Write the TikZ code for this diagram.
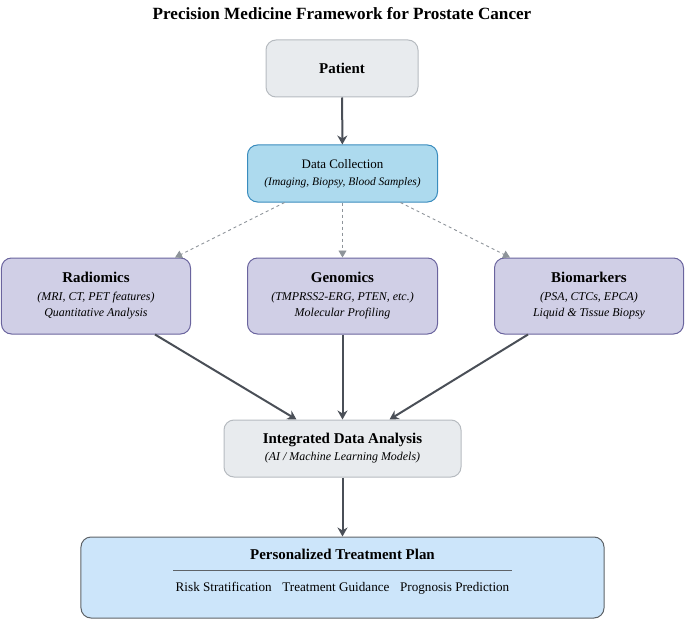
\documentclass[tikz,border=0pt]{standalone}
\usepackage{fontspec}
\setmainfont{Liberation Serif}
\usetikzlibrary{arrows.meta}
\definecolor{patfill}{HTML}{E8EBEE}
\definecolor{patline}{HTML}{B6BBC0}
\definecolor{datfill}{HTML}{ADDAEE}
\definecolor{datline}{HTML}{3A8CBE}
\definecolor{lavfill}{HTML}{D0CFE6}
\definecolor{lavline}{HTML}{6A649E}
\definecolor{planfill}{HTML}{CCE5FA}
\definecolor{planline}{HTML}{5E6368}
\definecolor{arrowgray}{HTML}{4A4F57}
\definecolor{dashgray}{HTML}{8E949A}
\newcommand{\boxtitle}[1]{{\fontsize{15}{18}\selectfont\bfseries #1}}
\begin{document}
\begin{tikzpicture}[x=1bp, y=-1bp,
    box/.style={draw, rounded corners=10bp, line width=1bp, align=center, inner sep=0pt,
      font=\fontsize{12}{16}\selectfont},
    flow/.style={-{Stealth[length=9bp, width=10bp]}, arrowgray, line width=2bp},
    feed/.style={-{Triangle[length=7bp, width=8bp]}, dashgray, line width=0.9bp,
      dash pattern=on 3bp off 3bp}]
  \useasboundingbox (0,0) rectangle (685,620);
  % title
  \node[font=\fontsize{17.2}{20}\selectfont\bfseries] (title) at (342,14)
    {Precision Medicine Framework for Prostate Cancer};
  % nodes
  \node[box, fill=patfill, draw=patline, minimum width=152bp, minimum height=57bp]
    (patient) at (342,68.5) {\boxtitle{Patient}};
  \node[box, fill=datfill, draw=datline, minimum width=190bp, minimum height=57bp]
    (data) at (342.5,173.5)
    {{\fontsize{13}{16}\selectfont Data Collection}\\[1bp]
     {\fontsize{11.5}{14}\selectfont\itshape (Imaging, Biopsy, Blood Samples)}};
  \node[box, fill=lavfill, draw=lavline, minimum width=189bp, minimum height=76bp]
    (radio) at (96,296)
    {\boxtitle{Radiomics}\\[2bp] \itshape (MRI, CT, PET features)\\ \itshape Quantitative Analysis};
  \node[box, fill=lavfill, draw=lavline, minimum width=190bp, minimum height=76bp]
    (geno) at (342.5,296)
    {\boxtitle{Genomics}\\[2bp] \itshape (TMPRSS2-ERG, PTEN, etc.)\\ \itshape Molecular Profiling};
  \node[box, fill=lavfill, draw=lavline, minimum width=189bp, minimum height=76bp]
    (bio) at (589,296)
    {\boxtitle{Biomarkers}\\[2bp] \itshape (PSA, CTCs, EPCA)\\ \itshape Liquid \& Tissue Biopsy};
  \node[box, fill=patfill, draw=patline, minimum width=237bp, minimum height=57bp]
    (integ) at (342.5,448.5)
    {\boxtitle{Integrated Data Analysis}\\[1bp] \itshape (AI / Machine Learning Models)};
  \node[box, fill=planfill, draw=planline, minimum width=523bp, minimum height=81bp]
    (plan) at (342.5,577.5) {};
  \node (plantitle) at (342.5,554) {\boxtitle{Personalized Treatment Plan}};
  \node[font=\fontsize{13.2}{16}\selectfont] (planitems) at (342.5,588)
    {Risk Stratification\hspace{0.55em} Treatment Guidance\hspace{0.55em} Prognosis Prediction};
  \coordinate (ruleL) at (173,570);
  \coordinate (ruleR) at (512,570);
  % lines
  \draw[planline, line width=0.6bp] (ruleL) -- (ruleR);
  \draw[flow] (patient) -- (data);
  \draw[feed] ([xshift=-58bp]data.south) -- ([xshift=79bp]radio.north);
  \draw[feed] (data) -- (geno);
  \draw[feed] ([xshift=58bp]data.south) -- ([xshift=-79bp]bio.north);
  \draw[flow] ([xshift=59bp]radio.south) -- ([xshift=-46bp]integ.north);
  \draw[flow] (geno) -- (integ);
  \draw[flow] ([xshift=-61bp]bio.south) -- ([xshift=47bp]integ.north);
  \draw[flow] (integ) -- (plan);
\end{tikzpicture}
\end{document}
